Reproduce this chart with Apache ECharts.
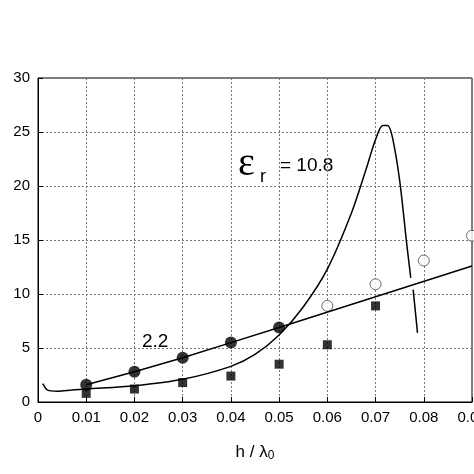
<!DOCTYPE html><html><head><meta charset="utf-8"><script src="https://cdn.jsdelivr.net/npm/echarts@6/dist/echarts.min.js"></script></head><body style="margin:0"><div id="c" style="width:474px;height:474px"></div><script>
const lineData=[[0.01,1.6],[0.02,2.8],[0.03,4.1],[0.04,5.5],[0.05,6.9],[0.09,12.6]];
const curveA=[[0.001,1.7],[0.002,1.1],[0.004,1.0],[0.007,1.1],[0.01,1.2],[0.02,1.5],[0.03,2.1],[0.04,3.3],[0.045,4.4],[0.05,6.2],[0.055,8.8],[0.06,12.3],[0.065,17.5],[0.068,21.5],[0.07,24.3],[0.0715,25.6],[0.0725,25.6],[0.0735,24.5],[0.075,20.5],[0.0765,14.5],[0.0773,11.5],null,[0.0778,10.4],[0.0787,6.4]];
const squares=[[0.01,0.8],[0.02,1.2],[0.03,1.8],[0.04,2.4],[0.05,3.5],[0.06,5.3],[0.07,8.9]];
const filledCircles=[[0.01,1.6],[0.02,2.8],[0.03,4.1],[0.04,5.5],[0.05,6.9]];
const openCircles=[[0.06,8.9],[0.07,10.9],[0.08,13.1],[0.09,15.4]];
const c=echarts.init(document.getElementById('c'));
const ax={axisLine:{lineStyle:{color:'#000',width:1}},axisTick:{inside:true,lineStyle:{color:'#000'}},axisLabel:{color:'#000',fontSize:15,fontFamily:'Liberation Sans'},splitLine:{show:true,lineStyle:{color:'#777',type:[2,2]}}};
c.setOption({animation:false,
grid:{left:38,right:2,top:78,bottom:72,show:true,borderColor:'#000',outerBoundsMode:'none',containLabel:false},
xAxis:Object.assign({type:'value',min:0,max:0.09,interval:0.01,name:'{a|h / λ}{b|0}',nameLocation:'middle',nameGap:40,nameTextStyle:{rich:{a:{fontSize:17,fontFamily:'Liberation Sans',color:'#000'},b:{fontSize:12,fontFamily:'Liberation Sans',color:'#000',verticalAlign:'bottom',padding:[8,0,0,0]}}}},ax,{axisLabel:Object.assign({},ax.axisLabel,{margin:8,formatter:v=>v===0?'0':String(+v.toFixed(2))})}),
yAxis:Object.assign({type:'value',min:0,max:30,interval:5},ax),
series:[
{type:'line',data:lineData,symbol:'none',lineStyle:{color:'#000',width:1.5}},
{type:'line',data:curveA,symbol:'none',smooth:0.3,connectNulls:false,lineStyle:{color:'#000',width:1.5}},
{type:'scatter',data:squares,symbol:'rect',symbolSize:9,itemStyle:{color:'#000'}},
{type:'scatter',data:filledCircles,symbol:'circle',symbolSize:12,itemStyle:{color:'#000'}},
{type:'scatter',data:openCircles,symbol:'circle',symbolSize:11,itemStyle:{color:'#fff',borderColor:'#444',borderWidth:1}}
],
graphic:[
{type:'text',left:238,top:144,style:{text:'ε',font:'40px Liberation Serif',fill:'#000'}},
{type:'text',left:260,top:168,style:{text:'r',font:'18px Liberation Sans',fill:'#000'}},
{type:'text',left:280,top:156,style:{text:'= 10.8',font:'19px Liberation Sans',fill:'#000'}},
{type:'text',left:142,top:332,style:{text:'2.2',font:'19px Liberation Sans',fill:'#000'}}
]});
</script></body></html>
